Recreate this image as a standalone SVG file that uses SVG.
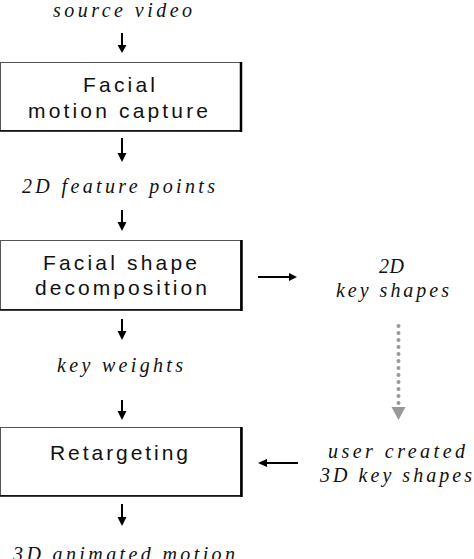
<svg xmlns="http://www.w3.org/2000/svg" width="474" height="559" viewBox="0 0 474 559">
<style>
.box{fill:#fff;stroke:#555;stroke-width:1}
.edge{stroke:#000;fill:none}
.lbl{font-family:"Liberation Sans",Arial,sans-serif;font-size:21px;fill:#111}
.it{font-family:"Liberation Serif","Times New Roman",serif;font-style:italic;font-size:20px;fill:#111}
.ln{stroke:#000;stroke-width:2;fill:none}
.hd{fill:#000}
.dot{fill:#999}
</style>
<rect width="474" height="559" fill="#fff"/>
<g id="node-source"><text class="it" x="53" y="17" textLength="139" lengthAdjust="spacing">source video</text></g>
<g id="node-capture">
<rect class="box" x="0.5" y="62.5" width="240" height="68"/>
<line class="edge" x1="241" y1="62" x2="241" y2="132" stroke-width="2.5"/>
<line class="edge" x1="0" y1="131" x2="242" y2="131" stroke-width="1.5"/>
<text class="lbl" x="83" y="92" textLength="72" lengthAdjust="spacing">Facial</text>
<text class="lbl" x="28" y="118" textLength="180" lengthAdjust="spacing">motion capture</text>
</g>
<g id="node-2dfeat"><text class="it" x="22" y="193" textLength="193" lengthAdjust="spacing">2D  feature points</text></g>
<g id="node-decomp">
<rect class="box" x="0.5" y="240.5" width="240" height="69"/>
<line class="edge" x1="241.5" y1="240" x2="241.5" y2="311" stroke-width="2.5"/>
<line class="edge" x1="0" y1="310" x2="242" y2="310" stroke-width="1.5"/>
<text class="lbl" x="43" y="270" textLength="154" lengthAdjust="spacing">Facial shape</text>
<text class="lbl" x="35" y="295" textLength="172" lengthAdjust="spacing">decomposition</text>
</g>
<g id="node-2dkey">
<text class="it" x="379" y="273" textLength="25" lengthAdjust="spacing">2D</text>
<text class="it" x="336" y="297" textLength="113" lengthAdjust="spacing">key shapes</text>
</g>
<g id="node-weights"><text class="it" x="57" y="372" textLength="126" lengthAdjust="spacing">key weights</text></g>
<g id="node-retarget">
<rect class="box" x="0.5" y="427.5" width="240" height="68"/>
<line class="edge" x1="241.5" y1="427" x2="241.5" y2="497" stroke-width="2.5"/>
<line class="edge" x1="0" y1="496" x2="242" y2="496" stroke-width="1.5"/>
<text class="lbl" x="50" y="460" textLength="138" lengthAdjust="spacing">Retargeting</text>
</g>
<g id="node-3dkey">
<text class="it" x="328" y="458" textLength="137" lengthAdjust="spacing">user created</text>
<text class="it" x="320" y="482" textLength="152" lengthAdjust="spacing">3D key shapes</text>
</g>
<g id="node-output"><text class="it" x="13" y="561" textLength="222" lengthAdjust="spacing">3D animated motion</text></g>
<g id="connectors">
<line class="ln" x1="122" y1="33" x2="122" y2="46"/><polygon class="hd" points="117.5,45 126.5,45 122,53"/>
<line class="ln" x1="122" y1="138" x2="122" y2="154"/><polygon class="hd" points="117.5,153 126.5,153 122,162"/>
<line class="ln" x1="122" y1="210" x2="122" y2="223"/><polygon class="hd" points="117.5,222 126.5,222 122,231"/>
<line class="ln" x1="122" y1="319" x2="122" y2="332"/><polygon class="hd" points="117.5,331 126.5,331 122,340"/>
<line class="ln" x1="122" y1="400" x2="122" y2="412"/><polygon class="hd" points="117.5,411 126.5,411 122,420"/>
<line class="ln" x1="122" y1="504" x2="122" y2="518"/><polygon class="hd" points="117.5,517 126.5,517 122,526"/>
<line class="ln" x1="258" y1="277" x2="290" y2="277" stroke-width="1.5"/><polygon class="hd" points="289,273 297,277 289,281"/>
<line class="ln" x1="298" y1="463" x2="266" y2="463" stroke-width="2.5"/><polygon class="hd" points="267,459 258,463 267,467"/>
<g class="dot">
<circle cx="398.5" cy="326" r="2"/><circle cx="398.5" cy="333" r="2"/><circle cx="398.5" cy="340" r="2"/><circle cx="398.5" cy="347" r="2"/><circle cx="398.5" cy="354" r="2"/><circle cx="398.5" cy="361" r="2"/><circle cx="398.5" cy="368" r="2"/><circle cx="398.5" cy="375" r="2"/><circle cx="398.5" cy="382" r="2"/><circle cx="398.5" cy="389" r="2"/><circle cx="398.5" cy="396" r="2"/><circle cx="398.5" cy="403" r="2"/>
<polygon points="391.5,407 405.5,407 398.5,420"/>
</g>
</g>
</svg>
